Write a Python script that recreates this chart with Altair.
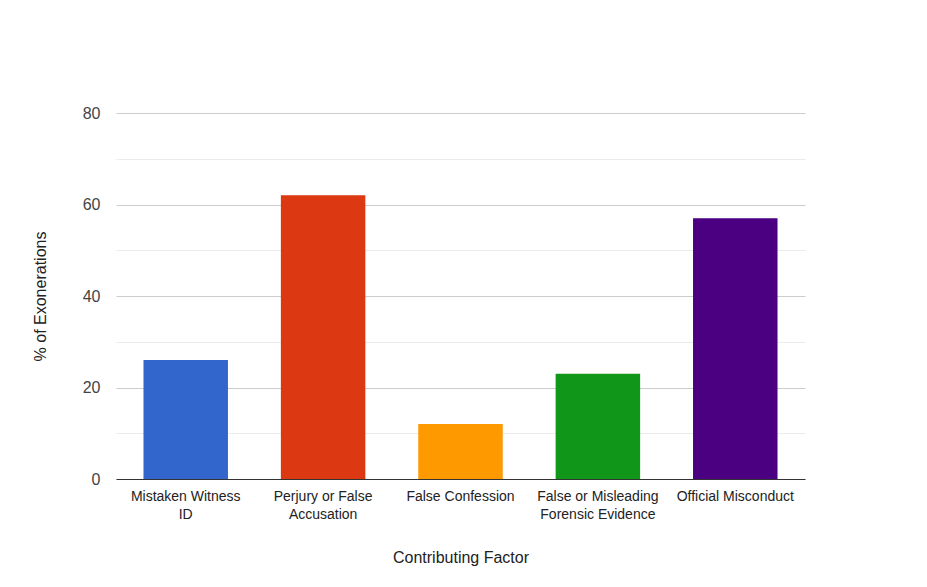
import altair as alt
import pandas as pd

categories = ["Mistaken Witness ID", "Perjury or False Accusation", "False Confession",
              "False or Misleading Forensic Evidence", "Official Misconduct"]
values = [26, 62, 12, 23, 57]
colors = ["#3366CC", "#DC3912", "#FF9900", "#109618", "#4B0082"]
grid_ticks = [0, 10, 20, 30, 40, 50, 60, 70, 80]

df = pd.DataFrame({"factor": categories, "pct": values})

FONT = "Liberation Sans"

label_expr = ("datum.label == 'Mistaken Witness ID' ? ['Mistaken Witness', 'ID'] : "
              "datum.label == 'Perjury or False Accusation' ? ['Perjury or False', 'Accusation'] : "
              "datum.label == 'False or Misleading Forensic Evidence' ? ['False or Misleading', 'Forensic Evidence'] : "
              "datum.label")

bars = alt.Chart(df).mark_bar().encode(
    x=alt.X("factor:N", sort=categories,
            scale=alt.Scale(paddingInner=0.385, paddingOuter=0.2),
            axis=alt.Axis(title="Contributing Factor", labelAngle=0, labelExpr=label_expr,
                          labelFont=FONT, labelFontSize=14, labelColor="#222222",
                          labelPadding=10, labelLineHeight=18, ticks=False,
                          domainColor="#333333", domainWidth=1,
                          titleFont=FONT, titleFontSize=16, titleFontWeight="normal",
                          titleColor="#222222", titlePadding=28, grid=False)),
    y=alt.Y("pct:Q", scale=alt.Scale(domain=[0, 80], nice=False),
            axis=alt.Axis(title="% of Exonerations", values=grid_ticks,
                          labelExpr="datum.value % 20 === 0 ? datum.label : ''",
                          labelFont=FONT, labelFontSize=16, labelColor="#444444",
                          labelPadding=16, ticks=False, domain=False,
                          gridColor=alt.condition("datum.value % 20 === 0",
                                                  alt.value("#cccccc"), alt.value("#ebebeb")),
                          gridWidth=1,
                          titleFont=FONT, titleFontSize=16, titleFontWeight="normal",
                          titleColor="#222222", titlePadding=34)),
    color=alt.Color("factor:N", scale=alt.Scale(domain=categories, range=colors), legend=None),
).properties(
    width=689, height=366,
    background="white",
    autosize=alt.AutoSizeParams(type="none"),
    padding={"left": 116, "top": 113, "right": 122, "bottom": 108},
)

chart = bars.configure_view(stroke="transparent", strokeWidth=0)

chart.save("out.html", embed_options={"renderer": "svg", "actions": False})
